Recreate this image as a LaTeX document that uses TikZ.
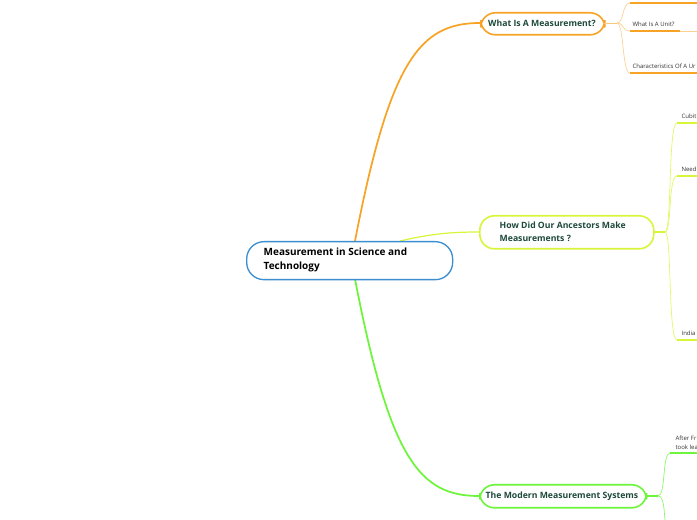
\documentclass[tikz,border=0pt]{standalone}
\usepackage{fontspec}
\setmainfont{Open Sans}
\definecolor{ora}{HTML}{F7A325}
\definecolor{yel}{HTML}{D9F53A}
\definecolor{grn}{HTML}{6CF53A}
\definecolor{blu}{HTML}{3B8FD1}
\definecolor{txt}{HTML}{1E4A3A}
\begin{document}
\begin{tikzpicture}[x=0.75pt,y=-0.75pt,
 topic/.style={draw,rounded corners=11pt,line width=1.2pt,fill=white,font=\bfseries\fontsize{6.5}{9}\selectfont,text=txt,align=left,anchor=north west,inner sep=0pt},
 sub/.style={font=\fontsize{4.5}{6.5}\selectfont,text=black!80,anchor=south west,inner sep=1pt,align=left}]
\useasboundingbox (0,0) rectangle (697,520);
\clip (0,0) rectangle (697,520);
% connectors
\draw[ora,line width=1.3pt] (355,241) .. controls (390,60) and (420,23) .. (480,23);
\draw[yel,line width=0.9pt] (400,241) .. controls (430,234) and (450,232) .. (479,232);
\draw[grn,line width=1.3pt] (355,279) .. controls (390,460) and (420,496) .. (479,496);
% central
\node[draw=blu,rounded corners=13pt,line width=1pt,fill=white,minimum width=206\pgflinewidth,anchor=north west,inner sep=0pt,minimum width=154.5pt,minimum height=28.5pt] (c) at (246,241) {};
\node[font=\bfseries\fontsize{7.5}{11}\selectfont,align=left,anchor=west] (ct) at (259,260) {Measurement in Science and\\Technology};
% topics
\node[topic,draw=ora,minimum width=93pt,minimum height=16.5pt] (o) at (480,12) {};
\node[font=\bfseries\fontsize{6.5}{9}\selectfont,text=txt] at (542,23) {What Is A Measurement?};
\node[topic,draw=yel,minimum width=130.5pt,minimum height=24.75pt] (y) at (479,215) {};
\node[font=\bfseries\fontsize{6.5}{10}\selectfont,text=txt,align=left,anchor=west] at (495,232) {How Did Our Ancestors Make\\Measurements ?};
\node[topic,draw=grn,minimum width=125pt,minimum height=17.25pt] (g) at (479,484) {};
\node[font=\bfseries\fontsize{6.5}{9}\selectfont,text=txt] at (562,496) {The Modern Measurement Systems};
% orange subs
\draw[ora!60,line width=0.6pt] (604,23) -- (617,23);
\foreach \yy in {3,31,73}{\draw[ora!50,line width=0.5pt] (617,23) .. controls (624,23) and (622,\yy) .. (630,\yy);}
\draw[ora,line width=1.5pt] (630,3) -- (697,3);
\draw[ora,line width=1.5pt] (630,31) -- (680,31); \draw[ora!50,line width=0.6pt] (680,31) -- (697,31);
\draw[ora,line width=1.5pt] (630,73) -- (697,73);
\node[sub] at (631,28) {What Is A Unit?};
\node[sub] at (631,70) {Characteristics Of A Ur};
% yellow subs
\draw[yel,line width=0.8pt] (653,232) -- (665,232);
\foreach \yy in {123,176,340}{\draw[yel!80,line width=0.5pt] (665,232) .. controls (672,232) and (668,\yy) .. (677,\yy);}
\foreach \yy in {123,176,340}{\draw[yel,line width=1.5pt] (677,\yy) -- (697,\yy);}
\node[sub] at (680,120) {Cubit};
\node[sub] at (680,173) {Need};
\node[sub] at (680,337) {India};
% green subs
\draw[grn,line width=0.8pt] (646,496) -- (658,496);
\draw[grn!80,line width=0.5pt] (658,496) .. controls (666,496) and (662,453) .. (670,453);
\draw[grn!80,line width=0.5pt] (658,496) .. controls (664,496) and (664,510) .. (665,520);
\draw[grn,line width=1.5pt] (670,453) -- (697,453);
\node[sub,align=left] at (674,451) {After Fr\\took lea};
\end{tikzpicture}
\end{document}
